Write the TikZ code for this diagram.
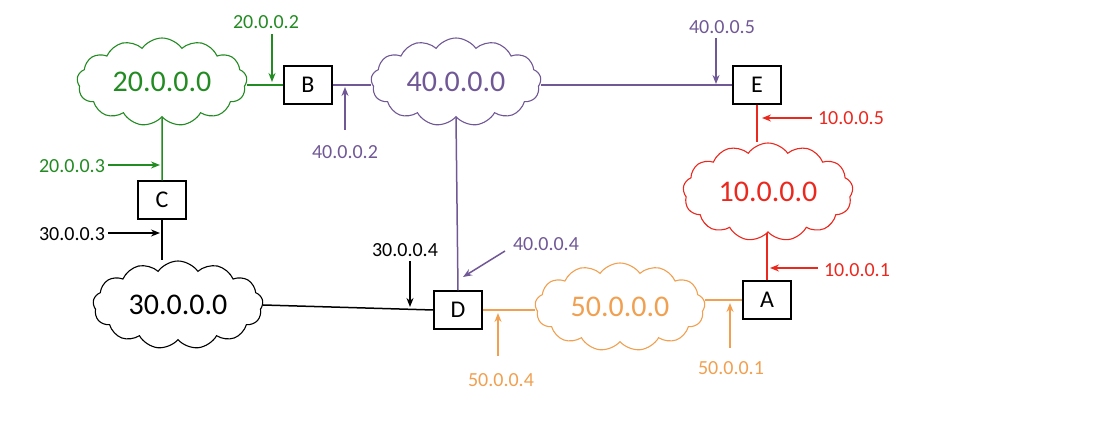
\documentclass[tikz,border=0pt]{standalone}
\usepackage{fontspec}
\setmainfont{Carlito}
\usetikzlibrary{shapes.symbols,arrows.meta}
\definecolor{cg}{RGB}{34,139,34}
\definecolor{cp}{RGB}{112,88,150}
\definecolor{cr}{RGB}{235,40,30}
\definecolor{co}{RGB}{240,160,80}
\begin{document}
\begin{tikzpicture}[x=1pt,y=-1pt,
  net/.style={cloud,cloud puffs=13,cloud puff arc=110,aspect=2,draw,minimum width=170pt,minimum height=88pt,inner sep=0pt,font=\fontsize{30}{32}\selectfont,line width=1.1pt},
  box/.style={draw,line width=1.3pt,minimum width=48pt,minimum height=38pt,font=\fontsize{24}{26}\selectfont,inner sep=0pt},
  lbl/.style={font=\fontsize{20}{22}\selectfont,inner sep=1pt},
  arr/.style={-{Stealth[length=9pt,width=7pt]},line width=1.5pt},
  ln/.style={line width=1.5pt}]
\useasboundingbox (0,0) rectangle (1120,443);
% clouds
\node[net,draw=cg,text=cg] (n20) at (162,82) {20.0.0.0};
\node[net,draw=cp,text=cp] (n40) at (456,82) {40.0.0.0};
\node[net,draw=cr,text=cr,minimum height=98pt] (n10) at (768,192) {10.0.0.0};
\node[net,draw=co,text=co] (n50) at (620,307) {50.0.0.0};
\node[net,draw=black,text=black] (n30) at (178,305) {30.0.0.0};
% boxes
\node[box] (B) at (308,85) {B};
\node[box] (E) at (757,85) {E};
\node[box] (A) at (767,300) {A};
\node[box] (D) at (458,310) {D};
\node[box] (C) at (162,200) {C};
% links
\draw[ln,cg] (n20.east|-B) -- (B);
\draw[ln,cp] (B) -- (n40.west|-B);
\draw[ln,cp] (n40.east|-E) -- (E);
\draw[ln,cp] (n40.south) -- (D.north);
\draw[ln,cg] (n20.south) -- (C.north);
\draw[ln,black] (C.south) -- (n30.north-|C);
\draw[ln,black] (n30.east) -- (D.west);
\draw[ln,co] (D.east) -- (n50.west|-D);
\draw[ln,co] (n50.east|-A) -- (A.west);
\draw[ln,cr] (E.south) -- (n10.north-|E);
\draw[ln,cr] (n10.south-|A) -- (A.north);
% labels with arrows
\coordinate (a1) at (272,34); \coordinate (b1) at (272,82);
\draw[arr,cg] (a1) -- (b1); \node[lbl,text=cg] (t1) at (266,22) {20.0.0.2};
\coordinate (a2) at (345,130); \coordinate (b2) at (345,87);
\draw[arr,cp] (a2) -- (b2); \node[lbl,text=cp] (t2) at (345,152) {40.0.0.2};
\coordinate (a3) at (716,38); \coordinate (b3) at (716,84);
\draw[arr,cp] (a3) -- (b3); \node[lbl,text=cp] (t3) at (722,27) {40.0.0.5};
\coordinate (a4) at (812,118); \coordinate (b4) at (762,118);
\draw[arr,cr] (a4) -- (b4); \node[lbl,text=cr] (t4) at (851,118) {10.0.0.5};
\coordinate (a5) at (818,268); \coordinate (b5) at (770,268);
\draw[arr,cr] (a5) -- (b5); \node[lbl,text=cr] (t5) at (857,270) {10.0.0.1};
\coordinate (a6) at (108,165); \coordinate (b6) at (160,165);
\draw[arr,cg] (a6) -- (b6); \node[lbl,text=cg] (t6) at (72,166) {20.0.0.3};
\coordinate (a7) at (108,233); \coordinate (b7) at (160,233);
\draw[arr,black] (a7) -- (b7); \node[lbl] (t7) at (72,234) {30.0.0.3};
\coordinate (a8) at (410,261); \coordinate (b8) at (410,307);
\draw[arr,black] (a8) -- (b8); \node[lbl] (t8) at (405,250) {30.0.0.4};
\coordinate (a9) at (505,251); \coordinate (b9) at (463,277);
\draw[arr,cp] (a9) -- (b9); \node[lbl,text=cp] (t9) at (546,244) {40.0.0.4};
\coordinate (a10) at (498,356); \coordinate (b10) at (498,313);
\draw[arr,co] (a10) -- (b10); \node[lbl,text=co] (t10) at (501,380) {50.0.0.4};
\coordinate (a11) at (730,348); \coordinate (b11) at (730,303);
\draw[arr,co] (a11) -- (b11); \node[lbl,text=co] (t11) at (731,368) {50.0.0.1};
\end{tikzpicture}
\end{document}
